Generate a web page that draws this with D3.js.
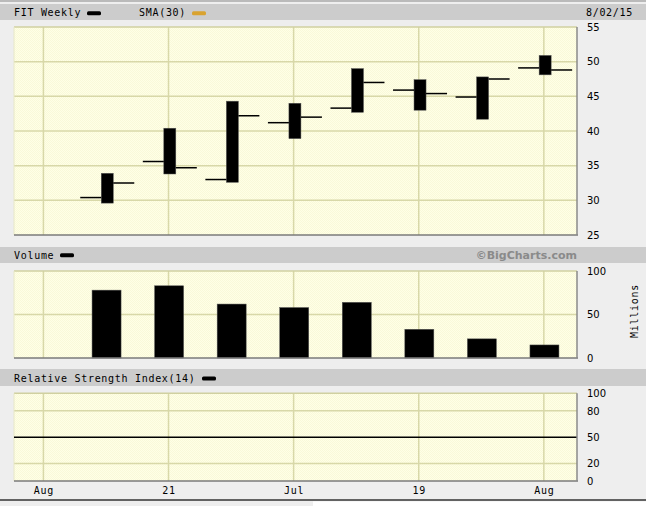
<!DOCTYPE html>
<html><head><meta charset="utf-8">
<script src="https://cdnjs.cloudflare.com/ajax/libs/d3/7.8.5/d3.min.js"></script>
<style>
html,body{margin:0;padding:0;background:#eeeeee;}
svg{display:block;}
.mono{font-family:"DejaVu Sans Mono",monospace;font-size:10px;letter-spacing:0.7px;fill:#000;}
.num{font-family:"DejaVu Sans",Verdana,sans-serif;font-size:10px;fill:#000;}
</style></head>
<body>
<script>
// ---- data ----
const weekIndex = [1, 2, 3, 4, 5, 6, 7, 8];
const open  = [30.4, 35.6, 33.0, 41.2, 43.3, 45.9, 44.9, 49.1];
const high  = [33.9, 40.4, 44.3, 44.0, 49.0, 47.4, 47.8, 50.9];
const low   = [29.6, 33.8, 32.6, 38.9, 42.7, 43.0, 41.7, 48.1];
const close = [32.5, 34.7, 42.2, 42.0, 47.0, 45.4, 47.5, 48.8];
const volume = [78, 83, 62, 58, 64, 33, 22, 15]; // millions
const rsiLevel = [50, 50];
const xTickIndex = [0, 2, 4, 6, 8];
const xTickLabels = ["Aug", "21", "Jul", "19", "Aug"];
const priceTicks = [25, 30, 35, 40, 45, 50, 55];
const volumeTicks = [0, 50, 100];
const rsiTicks = [0, 20, 50, 80, 100];

const W = 646, H = 506;
const svg = d3.select("body").append("svg").attr("width", W).attr("height", H);

const defs = svg.append("defs");
const pat = defs.append("pattern").attr("id","dither").attr("width",2).attr("height",2).attr("patternUnits","userSpaceOnUse");
pat.append("rect").attr("width",2).attr("height",2).attr("fill","#ffffe6");
pat.append("rect").attr("width",1).attr("height",1).attr("fill","#f9f9d9");
pat.append("rect").attr("x",1).attr("y",1).attr("width",1).attr("height",1).attr("fill","#f9f9d9");

svg.append("rect").attr("width",W).attr("height",H).attr("fill","#eeeeee");
svg.append("line").attr("x1",0).attr("x2",W).attr("y1",1).attr("y2",1).attr("stroke","#a8a8a8").attr("stroke-width",1.5);

const left = 14, right = 577;
const x = d3.scaleLinear().domain([-0.47, 8.53]).range([left, right]);

const gridColor = "#d8d8a8";

function panel(top, bottom, yScale, gridVals) {
  const g = svg.append("g");
  g.append("rect").attr("x", left).attr("y", top).attr("width", right-left).attr("height", bottom-top).attr("fill","url(#dither)");
  g.selectAll("line.h").data(gridVals).join("line")
    .attr("x1", left).attr("x2", right).attr("y1", d=>yScale(d)).attr("y2", d=>yScale(d))
    .attr("stroke", gridColor).attr("stroke-width", 1.5);
  g.selectAll("line.v").data(xTickIndex).join("line")
    .attr("x1", d=>x(d)).attr("x2", d=>x(d)).attr("y1", top).attr("y2", bottom)
    .attr("stroke", gridColor).attr("stroke-width", 1.5);
  // frame
  g.append("line").attr("x1",left).attr("x2",right).attr("y1",top).attr("y2",top).attr("stroke","#d0d0a0").attr("stroke-width",1.5);
  g.append("line").attr("x1",left).attr("x2",left).attr("y1",top).attr("y2",bottom).attr("stroke","#e8e8c8").attr("stroke-width",1);
  return g;
}
function frameBR(top, bottom) {
  svg.append("line").attr("x1",left).attr("x2",right+1).attr("y1",bottom).attr("y2",bottom).attr("stroke","#7a7a7a").attr("stroke-width",1.5);
  svg.append("line").attr("x1",right).attr("x2",right).attr("y1",top).attr("y2",bottom).attr("stroke","#8a8a8a").attr("stroke-width",1.5);
}
function band(y0, h) {
  svg.append("rect").attr("x",0).attr("y",y0).attr("width",W).attr("height",h).attr("fill","#cccccc");
}
function swatch(xp, yc, color) {
  svg.append("rect").attr("x",xp).attr("y",yc-2).attr("width",14).attr("height",4).attr("rx",1.5).attr("fill",color);
}
function rightAxis(yScale, ticks, fmt) {
  const a = svg.append("g").attr("transform",`translate(${right},0)`)
    .call(d3.axisRight(yScale).tickValues(ticks).tickSize(0).tickPadding(10).tickFormat(fmt||d3.format("d")));
  a.select(".domain").remove();
  a.selectAll("text").attr("class","num").attr("font-family",null).attr("font-size",null);
  a.attr("font-family",null).attr("font-size",null);
}

// ---- price panel ----
band(4, 16);
svg.append("text").attr("class","mono").attr("x",14).attr("y",16).text("FIT Weekly");
swatch(87, 13.3, "#000");
svg.append("text").attr("class","mono").attr("x",139).attr("y",16).text("SMA(30)");
swatch(192, 13.3, "#d9a330");
svg.append("text").attr("class","mono").attr("x",633).attr("y",16).attr("text-anchor","end").text("8/02/15");

const pTop = 27, pBot = 235;
const yP = d3.scaleLinear().domain([25, 55]).range([pBot, pTop]);
panel(pTop, pBot, yP, priceTicks.slice(1, -1));

const bodyW = 12, tickL = 21, off = 1.3;
const candles = svg.append("g");
weekIndex.forEach((wi, i) => {
  const cx = x(wi) + off;
  candles.append("rect").attr("x", cx - bodyW/2).attr("y", yP(high[i])).attr("width", bodyW)
    .attr("height", yP(low[i]) - yP(high[i])).attr("fill", "#000").attr("stroke","#555").attr("stroke-width",0.5);
  candles.append("line").attr("x1", cx - bodyW/2 - tickL).attr("x2", cx - bodyW/2)
    .attr("y1", yP(open[i])).attr("y2", yP(open[i])).attr("stroke","#000").attr("stroke-width",1.5);
  candles.append("line").attr("x1", cx + bodyW/2).attr("x2", cx + bodyW/2 + tickL)
    .attr("y1", yP(close[i])).attr("y2", yP(close[i])).attr("stroke","#000").attr("stroke-width",1.5);
});
frameBR(pTop, pBot);
rightAxis(yP, priceTicks);

// ---- volume panel ----
band(247, 16);
svg.append("text").attr("class","mono").attr("x",14).attr("y",259).text("Volume");
swatch(60, 255.3, "#000");
svg.append("text").attr("x",577).attr("y",259).attr("text-anchor","end")
  .attr("font-family","'DejaVu Sans',Verdana,sans-serif").attr("font-weight","bold").attr("font-size","11px")
  .attr("fill","#8a8a8a").text("©BigCharts.com");

const vTop = 271, vBot = 358;
const yV = d3.scaleLinear().domain([0, 100]).range([vBot, vTop]);
panel(vTop, vBot, yV, [50]);
const volW = 29;
svg.append("g").selectAll("rect").data(volume).join("rect")
  .attr("x", (d,i) => x(weekIndex[i]) + 0.6 - volW/2).attr("width", volW)
  .attr("y", d => yV(d)).attr("height", d => yV(0) - yV(d))
  .attr("fill","#000").attr("stroke","#555").attr("stroke-width",0.5);
frameBR(vTop, vBot);
rightAxis(yV, volumeTicks);
svg.append("text").attr("class","mono").attr("transform","translate(638,311) rotate(-90)")
  .attr("text-anchor","middle").text("Millions");

// ---- RSI panel ----
band(369, 17);
svg.append("text").attr("class","mono").attr("x",14).attr("y",382).text("Relative Strength Index(14)");
swatch(202, 378.5, "#000");

const rTop = 393.3, rBot = 481;
const yR = d3.scaleLinear().domain([0, 100]).range([rBot, rTop]);
panel(rTop, rBot, yR, [20, 80]);
svg.append("line")
  .attr("x1", x(x.domain()[0])).attr("x2", x(x.domain()[1]))
  .attr("y1", yR(rsiLevel[0])).attr("y2", yR(rsiLevel[1]))
  .attr("stroke","#000").attr("stroke-width",1.5);
frameBR(rTop, rBot);
rightAxis(yR, rsiTicks);

// x axis labels
const xa = svg.append("g").attr("transform",`translate(0,${rBot})`)
  .call(d3.axisBottom(x).tickValues(xTickIndex).tickSize(0).tickPadding(6).tickFormat((d,i)=>xTickLabels[i]));
xa.select(".domain").remove();
xa.attr("font-family",null).attr("font-size",null);
xa.selectAll("text").attr("class","mono");

// bottom separator and white box
svg.append("line").attr("x1",0).attr("x2",W).attr("y1",500).attr("y2",500).attr("stroke","#333").attr("stroke-width",1.5);
svg.append("rect").attr("x",313).attr("y",501.5).attr("width",W-313).attr("height",H-501.5).attr("fill","#fff");
</script>
</body></html>
